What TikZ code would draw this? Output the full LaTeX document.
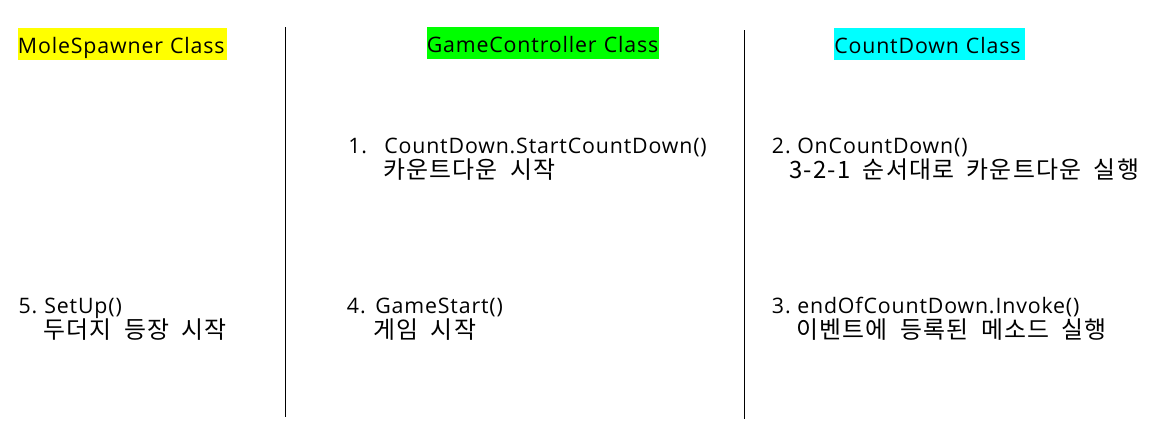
\documentclass[tikz,border=0pt]{standalone}
\usepackage{fontspec}
\setmainfont[LetterSpace=4]{Open Sans}
\newfontfamily\kr[Scale=1.12,LetterSpace=5,WordSpace=1.9]{Noto Sans CJK KR}
\usepackage{tikz}
\usetikzlibrary{positioning}
\definecolor{hdyellow}{RGB}{255,255,0}
\definecolor{hdgreen}{RGB}{0,255,0}
\definecolor{hdcyan}{RGB}{0,255,255}
\tikzset{header/.style={anchor=base west, inner xsep=0pt, inner ysep=0pt, text height=18.7pt, text depth=5.3pt, text width=#1, align=left},
         item/.style={anchor=base west, inner sep=0pt}}

\begin{document}
\begin{tikzpicture}[x=0.75pt,y=-0.75pt,font=\fontsize{16}{19}\selectfont]
\useasboundingbox (0,0) rectangle (1162,439);

% separators
\draw[-] (285.6,27) -- (285.6,417);
\draw[-] (744,30) -- (744,419);

% MoleSpawner
\node[header=157pt, fill=hdyellow] (moleHead) at (17.7,53) {MoleSpawner Class};
\node[item] (setupNo) at (18.3,313) {5.};
\node[item] (setup) at (44,313) {SetUp()};
\node[item] (setupKr) at (43,338) {\kr 두더지 등장 시작};

% GameController
\node[header=174pt, fill=hdgreen] (gameHead) at (426.5,52) {GameController Class};
\node[item] (startNo) at (348,153) {1.};
\node[item] (start) at (384,153) {CountDown.StartCountDown()};
\node[item] (startKr) at (383,178) {\kr 카운트다운 시작};
\node[item] (gameNo) at (346.7,313) {4.};
\node[item] (game) at (375,313) {GameStart()};
\node[item] (gameKr) at (373,338) {\kr 게임 시작};

% CountDown
\node[header=143.3pt, fill=hdcyan] (countHead) at (834,53) {CountDown Class};
\node[item] (onNo) at (771.7,153) {2.};
\node[item] (on) at (797,153) {OnCountDown()};
\node[item] (onKr) at (789,178) {\kr 3-2-1 순서대로 카운트다운 실행};
\node[item] (endNo) at (771.7,313) {3.};
\node[item] (endCall) at (797,313) {endOfCountDown.Invoke()};
\node[item] (endKr) at (796,338) {\kr 이벤트에 등록된 메소드 실행};

\end{tikzpicture}
\end{document}
